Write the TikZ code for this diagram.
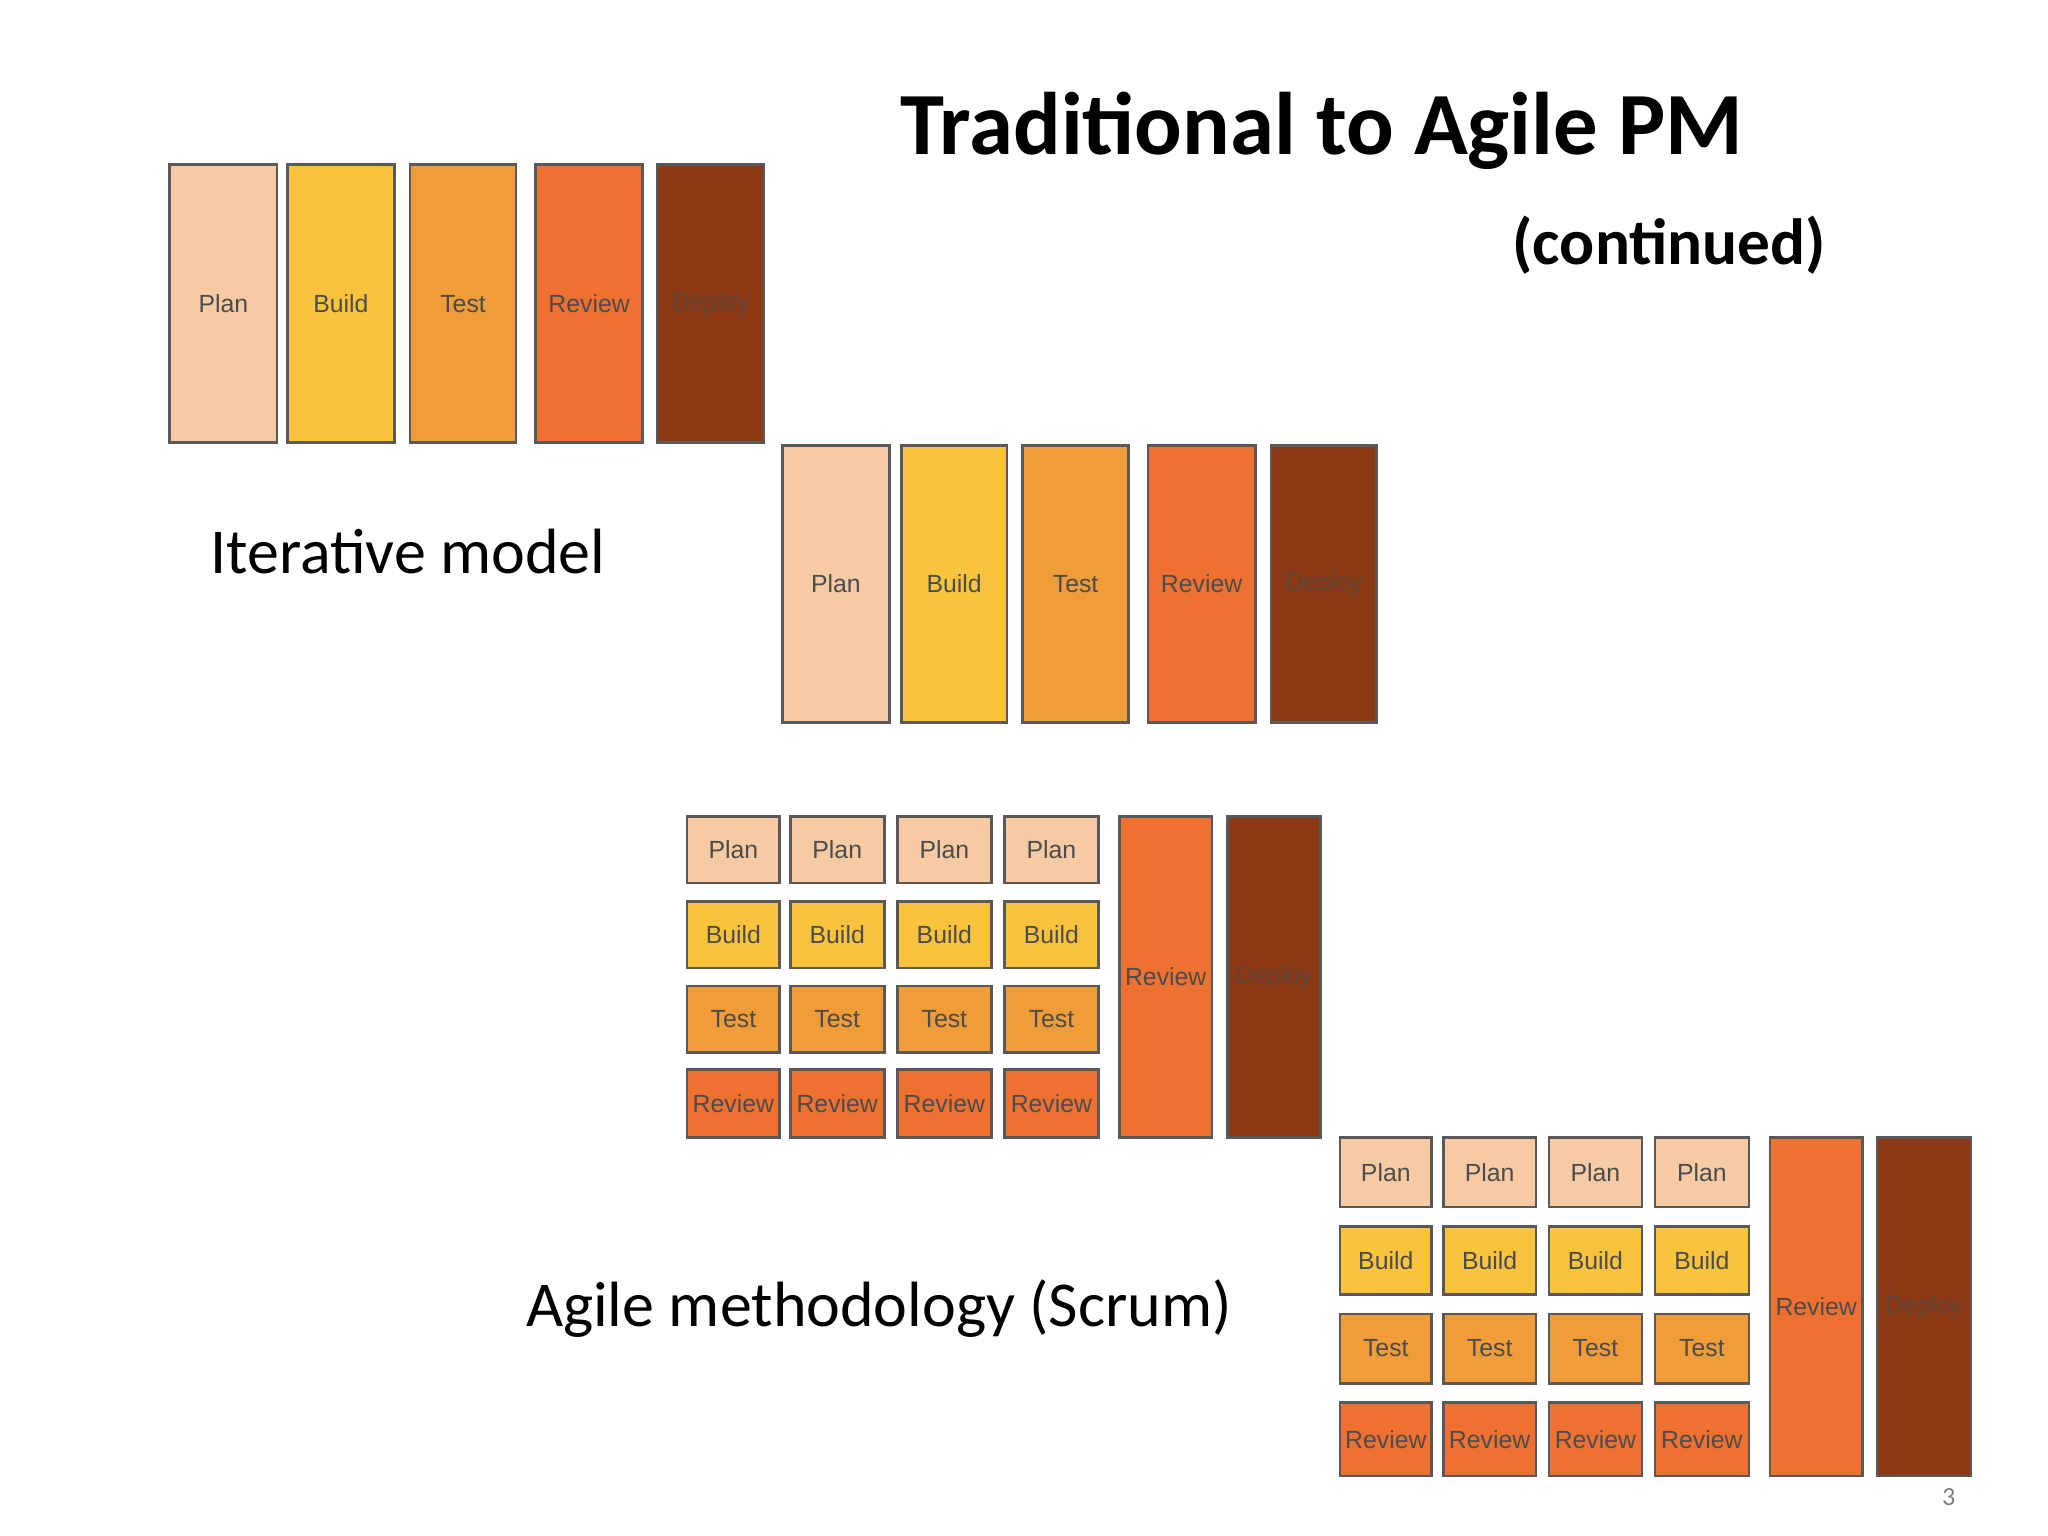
\documentclass[tikz,border=0pt]{standalone}
\usepackage{fontspec}
\setmainfont{Carlito}
\newfontfamily\arialf{Liberation Sans}
\definecolor{cplan}{HTML}{F6CBA3}
\definecolor{cbuild}{HTML}{F9C33E}
\definecolor{ctest}{HTML}{F09C38}
\definecolor{creview}{HTML}{EE7131}
\definecolor{cdeploy}{HTML}{8C3A15}
\tikzset{
 phase/.style={draw=black!65,line width=1pt,inner sep=0pt,font=\arialf\fontsize{9.5}{10}\selectfont,text=black!70},
 plan/.style={phase,fill=cplan},
 build/.style={phase,fill=cbuild},
 test/.style={phase,fill=ctest},
 review/.style={phase,fill=creview},
 deploy/.style={phase,fill=cdeploy,text=black!60!cdeploy!80!white},
}
\newcommand{\bx}[7]{\node[#6,minimum width={(#4-#2)*0.5pt},minimum height={(#5-#3)*0.5pt}] (#1) at ({(#2+#4)/2*0.5pt},{-(#3+#5)/2*0.5pt}) {#7};}
\begin{document}
\begin{tikzpicture}
\useasboundingbox (0,0) rectangle (784pt,-588pt);
\fill[white] (0,0) rectangle (784pt,-588pt);
% iterative 1
\bx{a1}{130}{126}{212}{339}{plan}{Plan}
\bx{a2}{220}{126}{302}{339}{build}{Build}
\bx{a3}{314}{126}{395}{339}{test}{Test}
\bx{a4}{410}{126}{492}{339}{review}{Review}
\bx{a5}{503}{126}{585}{339}{deploy}{Deploy}
% iterative 2
\bx{b1}{599}{341}{681}{553}{plan}{Plan}
\bx{b2}{690}{341}{771}{553}{build}{Build}
\bx{b3}{783}{341}{864}{553}{test}{Test}
\bx{b4}{879}{341}{961}{553}{review}{Review}
\bx{b5}{973}{341}{1054}{553}{deploy}{Deploy}
% scrum 1
\foreach \i/\xa/\xb in {1/526/597,2/605/677,3/687/759,4/769/841}{
 \bx{cp\i}{\xa}{625}{\xb}{676}{plan}{Plan}
 \bx{cb\i}{\xa}{690}{\xb}{741}{build}{Build}
 \bx{ct\i}{\xa}{755}{\xb}{806}{test}{Test}
 \bx{cr\i}{\xa}{819}{\xb}{871}{review}{Review}
}
\bx{cR}{857}{625}{928}{871}{review}{Review}
\bx{cD}{940}{625}{1011}{871}{deploy}{Deploy}
% scrum 2
\foreach \i/\xa/\xb in {1/1026/1096,2/1105/1176,3/1186/1257,4/1267/1339}{
 \bx{dp\i}{\xa}{871}{\xb}{924}{plan}{Plan}
 \bx{db\i}{\xa}{939}{\xb}{991}{build}{Build}
 \bx{dt\i}{\xa}{1006}{\xb}{1059}{test}{Test}
 \bx{dr\i}{\xa}{1074}{\xb}{1130}{review}{Review}
}
\bx{dR}{1355}{871}{1426}{1130}{review}{Review}
\bx{dD}{1437}{871}{1509}{1130}{deploy}{Deploy}
% texts
\node[font=\bfseries\fontsize{34}{40}\selectfont] (title) at (506pt,-50pt) {Traditional to Agile PM};
\node[font=\bfseries\fontsize{25}{30}\selectfont] (cont) at (639pt,-94pt) {(continued)};
\node[anchor=west,font=\fontsize{24.5}{28}\selectfont] (it) at (77pt,-211pt) {Iterative model};
\node[font=\fontsize{24.5}{28}\selectfont] (ag) at (336.5pt,-501pt) {Agile methodology (Scrum)};
\node[font=\fontsize{10}{12}\selectfont,text=black!50] (pg) at (746pt,-573pt) {3};
\end{tikzpicture}
\end{document}
